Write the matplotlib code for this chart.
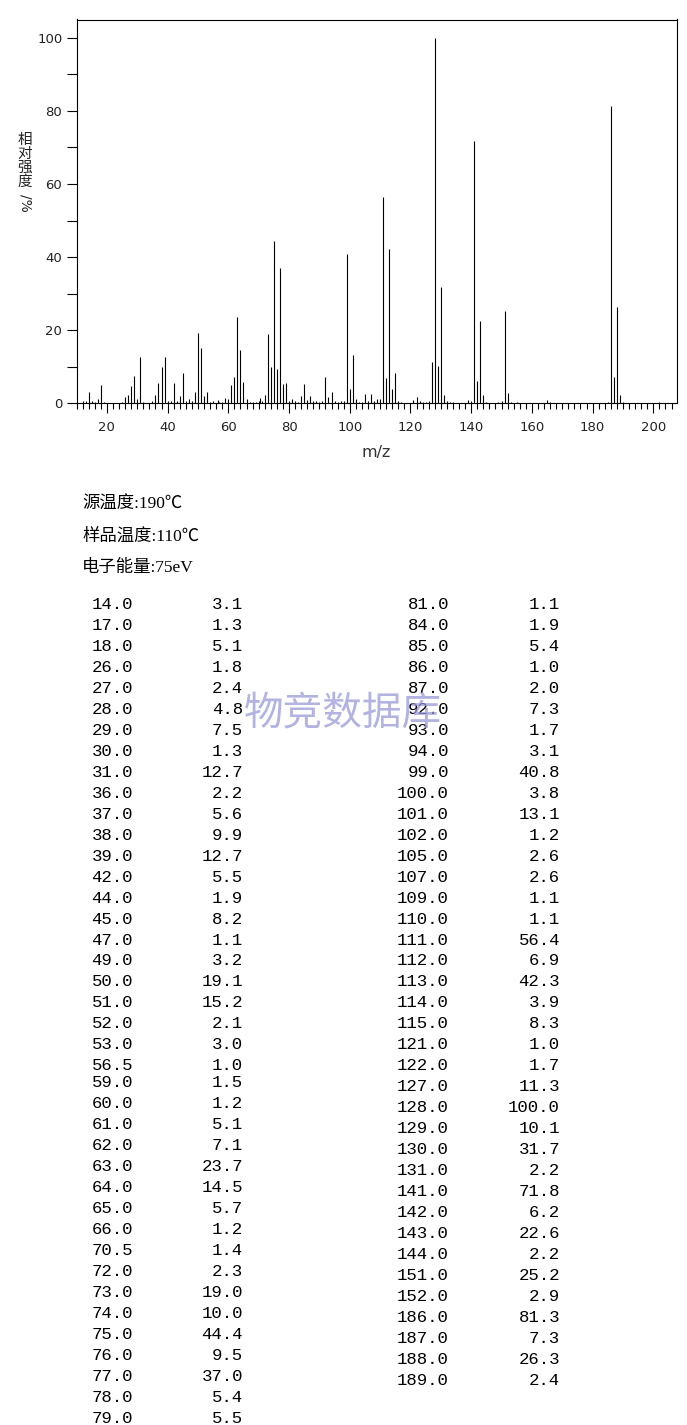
import matplotlib
matplotlib.use("Agg")
import matplotlib.pyplot as plt
from matplotlib.ticker import MultipleLocator

# ---- data: listed peaks (table) ----
table_mz = [14.0, 17.0, 18.0, 26.0, 27.0, 28.0, 29.0, 30.0, 31.0, 36.0,
            37.0, 38.0, 39.0, 42.0, 44.0, 45.0, 47.0, 49.0, 50.0, 51.0,
            52.0, 53.0, 56.5, 59.0, 60.0, 61.0, 62.0, 63.0, 64.0, 65.0,
            66.0, 70.5, 72.0, 73.0, 74.0, 75.0, 76.0, 77.0, 78.0, 79.0,
            81.0, 84.0, 85.0, 86.0, 87.0, 92.0, 93.0, 94.0, 99.0, 100.0,
            101.0, 102.0, 105.0, 107.0, 109.0, 110.0, 111.0, 112.0, 113.0, 114.0,
            115.0, 121.0, 122.0, 127.0, 128.0, 129.0, 130.0, 131.0, 141.0, 142.0,
            143.0, 144.0, 151.0, 152.0, 186.0, 187.0, 188.0, 189.0]
table_int = [3.1, 1.3, 5.1, 1.8, 2.4, 4.8, 7.5, 1.3, 12.7, 2.2,
             5.6, 9.9, 12.7, 5.5, 1.9, 8.2, 1.1, 3.2, 19.1, 15.2,
             2.1, 3.0, 1.0, 1.5, 1.2, 5.1, 7.1, 23.7, 14.5, 5.7,
             1.2, 1.4, 2.3, 19.0, 10.0, 44.4, 9.5, 37.0, 5.4, 5.5,
             1.1, 1.9, 5.4, 1.0, 2.0, 7.3, 1.7, 3.1, 40.8, 3.8,
             13.1, 1.2, 2.6, 2.6, 1.1, 1.1, 56.4, 6.9, 42.3, 3.9,
             8.3, 1.0, 1.7, 11.3, 100.0, 10.1, 31.7, 2.2, 71.8, 6.2,
             22.6, 2.2, 25.2, 2.9, 81.3, 7.3, 26.3, 2.4]

# ---- data: small unlisted peaks (<1 %) ----
minor_mz = [12, 13, 15, 16, 19, 25, 32, 35, 40, 41, 43, 46, 48, 54, 55, 57, 58,
            67, 68, 69, 70, 71, 80, 82, 83, 88, 89, 90, 91, 95, 96, 97, 98,
            103, 104, 106, 108, 116, 117, 123, 124, 125, 126, 132, 133, 134,
            139, 140, 145, 149, 150, 153, 155, 165, 166, 185, 190, 202]
minor_int = [0.5, 0.7, 0.7, 0.4, 0.3, 0.4, 0.4, 0.6, 0.5, 0.7, 0.7, 0.5, 0.5, 0.4, 0.7, 0.4, 0.3,
             0.4, 0.3, 0.4, 0.5, 0.6, 0.5, 0.5, 0.3, 0.5, 0.5, 0.3, 0.5, 0.6, 0.4, 0.6, 0.6,
             0.3, 0.4, 0.6, 0.6, 0.5, 0.4, 0.7, 0.4, 0.4, 0.7, 0.5, 0.4, 0.4,
             0.8, 0.5, 0.4, 0.4, 0.7, 0.4, 0.4, 0.8, 0.4, 0.4, 0.4, 0.3]

info_lines = ["源温度:190℃", "样品温度:110℃", "电子能量:75eV"]
watermark = "物竞数据库"
y_label_chars = "相\n对\n强\n度"
x_label = "m/z"

W, H = 687, 1425
fig = plt.figure(figsize=(W / 100, H / 100), dpi=100)

def fx(px):
    return px / W

def fy(py):
    return 1 - py / H

ax = fig.add_axes([fx(76.5), fy(403.3), fx(677) - fx(76.5), (403.3 - 19.5) / H])
all_mz = table_mz + minor_mz
all_int = table_int + minor_int
ax.vlines(all_mz, 0, all_int, colors="black", linewidth=0.8)
ax.set_xlim(10, 207.8)
ax.set_ylim(0, 105)
ax.xaxis.set_major_locator(MultipleLocator(20))
ax.xaxis.set_minor_locator(MultipleLocator(2))
ax.yaxis.set_major_locator(MultipleLocator(20))
ax.yaxis.set_minor_locator(MultipleLocator(10))
ax.tick_params(axis="x", which="major", length=7.5, width=0.8, direction="out",
               labelsize=9.5, pad=5, colors="black")
ax.tick_params(axis="x", which="minor", length=4.2, width=0.8, direction="out")
ax.tick_params(axis="y", which="both", length=7.2, width=0.8, direction="out",
               labelsize=9.5, pad=3)
for s in ax.spines.values():
    s.set_linewidth(0.8)
for lab in ax.get_xticklabels() + ax.get_yticklabels():
    lab.set_color("#222222")

fig.text(fx(376), fy(452), x_label, ha="center", va="center", fontsize=11.5,
         color="#333333", family="DejaVu Sans")
fig.text(fx(25), fy(161), y_label_chars, ha="center", va="center", fontsize=10.5,
         linespacing=1.0, color="#222222", family=["Noto Sans CJK SC", "DejaVu Sans"])
fig.text(fx(25), fy(203), "/%", ha="center", va="center", fontsize=10, rotation=270,
         color="#222222", family="DejaVu Sans")

for i, line in enumerate(info_lines):
    fig.text(fx(82), fy(505 + i * 31.5), line, ha="left", va="center", fontsize=12.5,
             color="black", family=["Liberation Serif", "Noto Sans CJK SC", "DejaVu Sans"])

mono = "Liberation Mono"
n_left = 40
row_h = 20.97
for i, (m, v) in enumerate(zip(table_mz, table_int)):
    if i < n_left:
        y = 604.5 + i * row_h - (4 if i >= 23 else 0)
        xm, xv = 133, 243
    else:
        y = 604.5 + (i - n_left) * row_h
        xm, xv = 449, 560
    fig.text(fx(xm), fy(y), f"{m:.1f}", ha="right", va="center", fontsize=12.5,
             family=mono, color="black")
    fig.text(fx(xv), fy(y), f"{v:.1f}", ha="right", va="center", fontsize=12.5,
             family=mono, color="black")

fig.text(fx(343), fy(713), watermark, ha="center", va="center", fontsize=28.5,
         color="#9a9ad8", alpha=0.75, family=["Noto Sans CJK SC", "DejaVu Sans"])

fig.savefig("out.png", dpi=100)
